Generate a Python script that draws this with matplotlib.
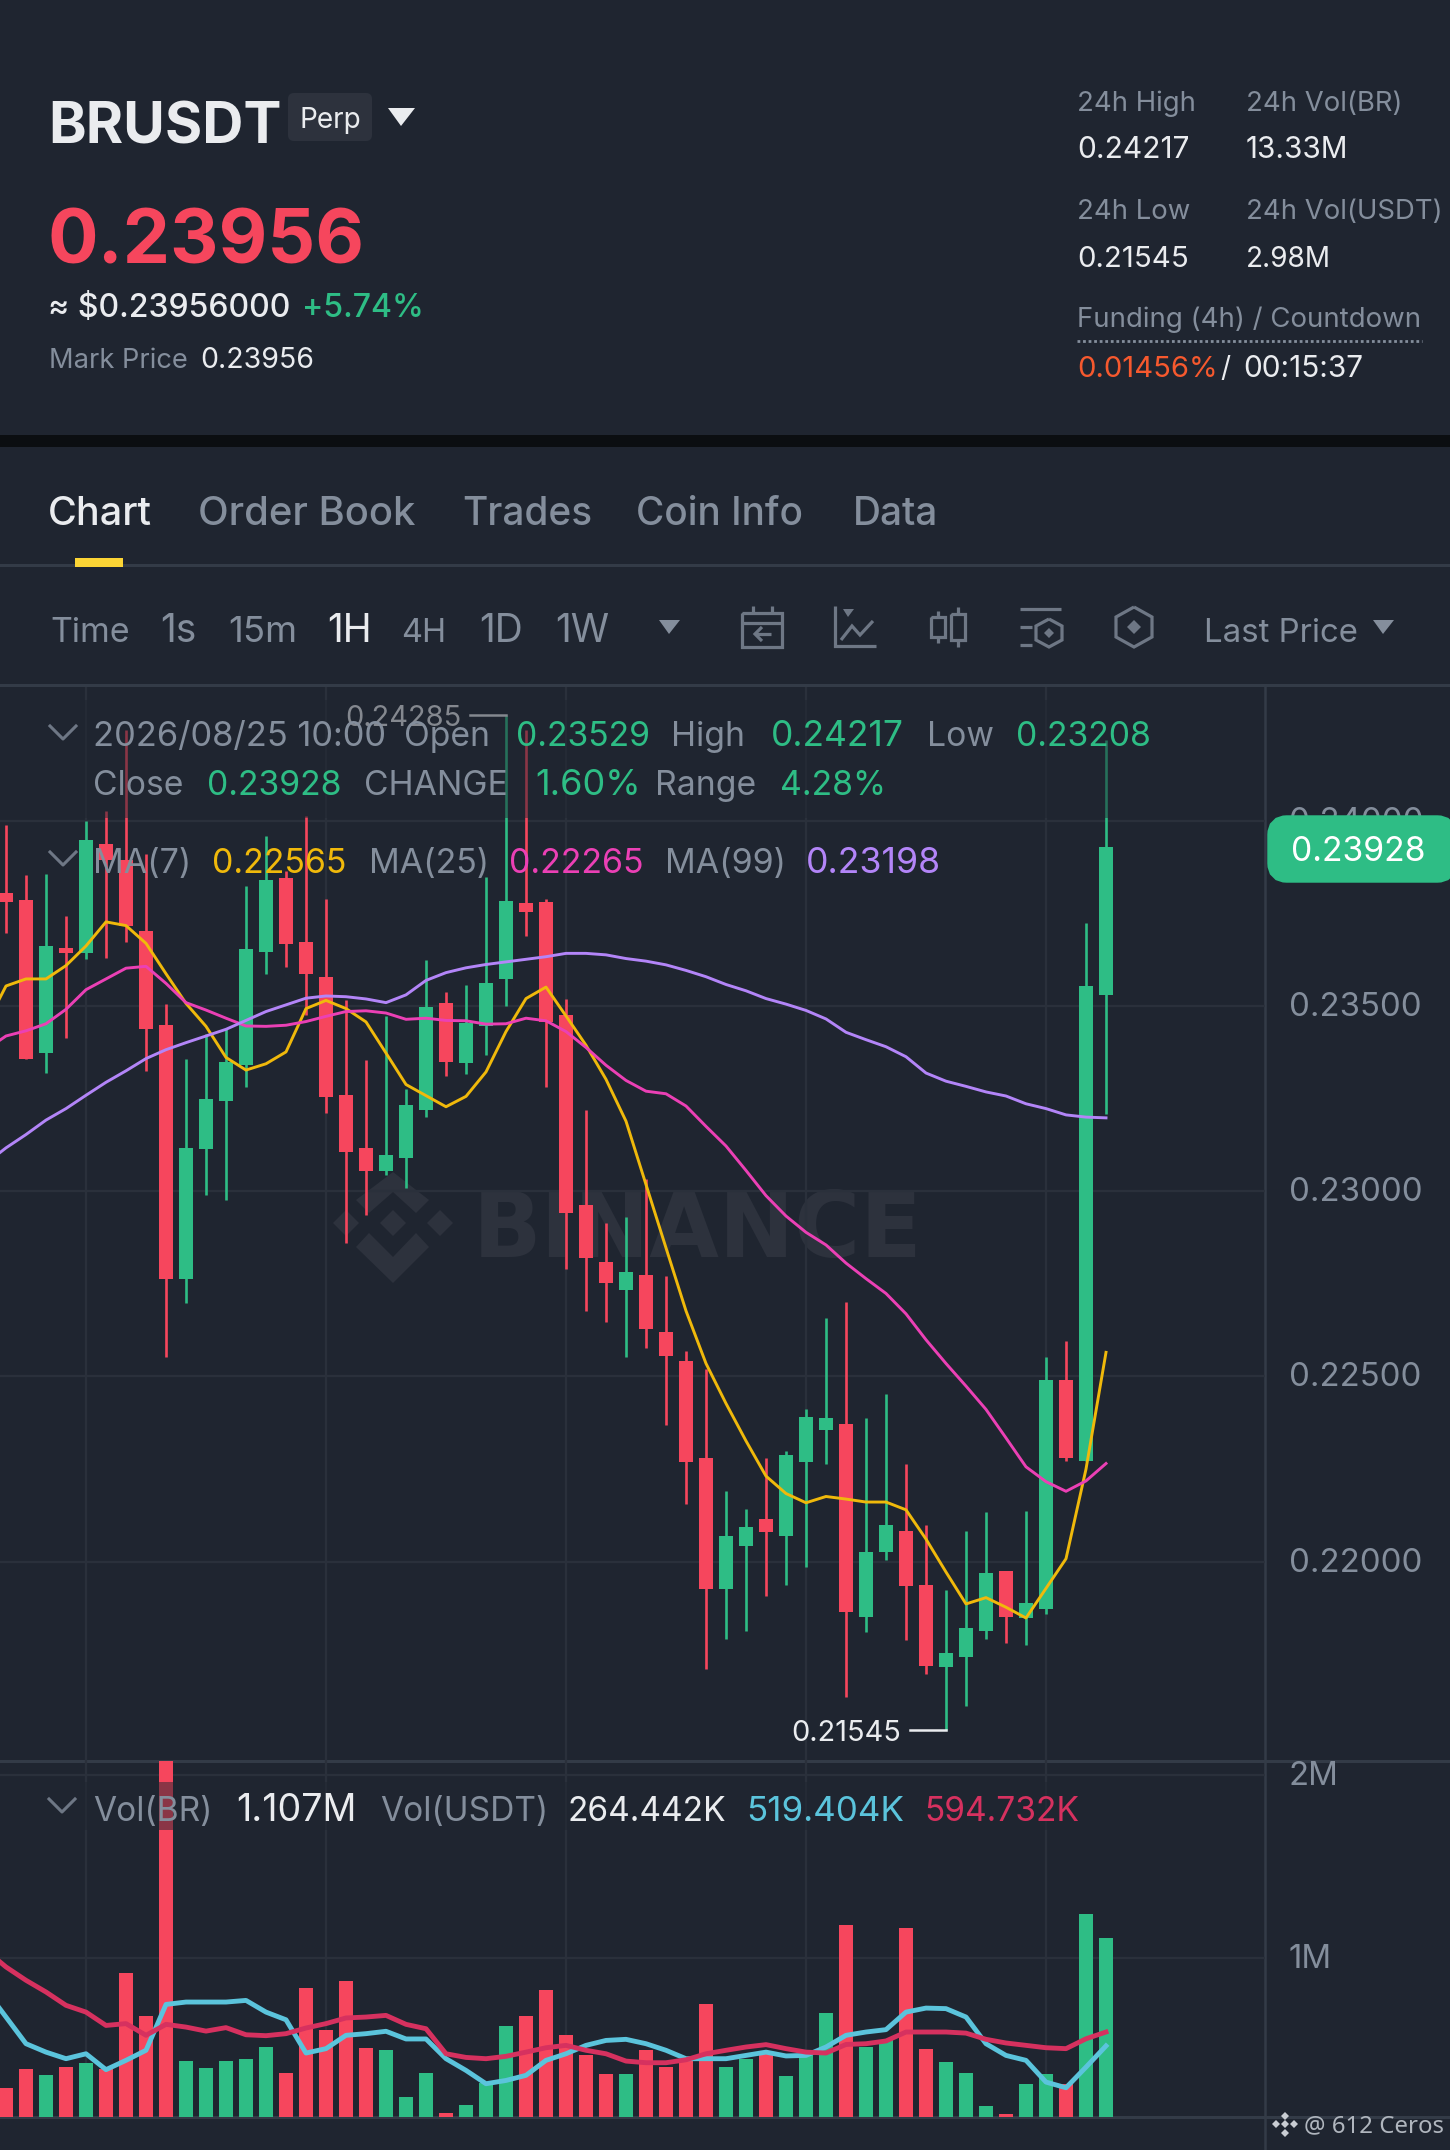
import numpy as np
import matplotlib
matplotlib.use('Agg')
import matplotlib.pyplot as plt
from matplotlib.patches import FancyBboxPatch, Polygon, Rectangle
from matplotlib.transforms import ScaledTranslation

plt.rcParams['font.family'] = ['Inter', 'Noto Sans', 'DejaVu Sans']

# candles, oldest first
opens = [0.23805, 0.23786, 0.23373, 0.23657, 0.23642, 0.23936, 0.23895, 0.23702, 0.23448, 0.22764,
         0.23115, 0.23244, 0.23340, 0.23645, 0.23846, 0.23672, 0.23578, 0.23261, 0.23117, 0.23054,
         0.23089, 0.23220, 0.23508, 0.23346, 0.23445, 0.23572, 0.23779, 0.23780, 0.23476, 0.22963,
         0.22810, 0.22734, 0.22773, 0.22620, 0.22542, 0.22279, 0.21926, 0.22042, 0.22114, 0.22068,
         0.22269, 0.22356, 0.22372, 0.21852, 0.22027, 0.22083, 0.21937, 0.21716, 0.21744, 0.21814,
         0.21975, 0.21848, 0.21871, 0.22491, 0.22273, 0.23529]
closes = [0.23780, 0.23358, 0.23663, 0.23643, 0.23949, 0.23895, 0.23717, 0.23439, 0.22764, 0.23117,
          0.23248, 0.23349, 0.23654, 0.23841, 0.23668, 0.23585, 0.23255, 0.23105, 0.23054, 0.23097,
          0.23234, 0.23496, 0.23349, 0.23455, 0.23563, 0.23783, 0.23755, 0.23457, 0.22942, 0.22819,
          0.22753, 0.22781, 0.22628, 0.22554, 0.22269, 0.21926, 0.22070, 0.22093, 0.22080, 0.22288,
          0.22391, 0.22387, 0.21865, 0.22025, 0.22099, 0.21934, 0.21719, 0.21754, 0.21822, 0.21970,
          0.21850, 0.21888, 0.22491, 0.22281, 0.23553, 0.23928]
highs = [0.23988, 0.23853, 0.23855, 0.23744, 0.24000, 0.24027, 0.24245, 0.23910, 0.23505, 0.23358,
         0.23425, 0.23437, 0.23823, 0.23959, 0.23865, 0.24012, 0.23789, 0.23515, 0.23355, 0.23473,
         0.23276, 0.23624, 0.23537, 0.23556, 0.23847, 0.24285, 0.24245, 0.23790, 0.23519, 0.23218,
         0.22914, 0.22931, 0.23033, 0.22770, 0.22569, 0.22521, 0.22190, 0.22142, 0.22279, 0.22298,
         0.22411, 0.22658, 0.22700, 0.22389, 0.22453, 0.22264, 0.22099, 0.21924, 0.22083, 0.22133,
         0.21975, 0.22137, 0.22552, 0.22597, 0.23723, 0.24217]
lows = [0.23696, 0.23358, 0.23320, 0.23413, 0.23627, 0.23630, 0.23672, 0.23325, 0.22552, 0.22697,
        0.22989, 0.22976, 0.23280, 0.23585, 0.23604, 0.23476, 0.23211, 0.22861, 0.22936, 0.23045,
        0.23008, 0.23201, 0.23310, 0.23317, 0.23367, 0.23501, 0.23688, 0.23281, 0.22791, 0.22677,
        0.22646, 0.22552, 0.22578, 0.22370, 0.22156, 0.21710, 0.21790, 0.21814, 0.21907, 0.21937,
        0.21985, 0.22264, 0.21634, 0.21810, 0.22004, 0.21788, 0.21697, 0.21545, 0.21610, 0.21790,
        0.21780, 0.21776, 0.21858, 0.22273, 0.22273, 0.23208]

# moving averages start one candle before the first visible one
ma7 = [0.23449, 0.23554, 0.23573, 0.23573, 0.23609, 0.23662, 0.23727, 0.23717, 0.23669, 0.23587,
       0.23507, 0.23445, 0.23361, 0.23327, 0.23344, 0.23376, 0.23493, 0.23515, 0.23493, 0.23457,
       0.23373, 0.23288, 0.23258, 0.23228, 0.23256, 0.23322, 0.23431, 0.23520, 0.23551, 0.23473,
       0.23394, 0.23302, 0.23189, 0.23018, 0.22847, 0.22677, 0.22535, 0.22427, 0.22326, 0.22231,
       0.22184, 0.22159, 0.22176, 0.22169, 0.22161, 0.22161, 0.22140, 0.22061, 0.21972, 0.21886,
       0.21903, 0.21877, 0.21848, 0.21928, 0.22008, 0.22250, 0.22565]
ma25 = [0.23382, 0.23419, 0.23433, 0.23452, 0.23491, 0.23544, 0.23573, 0.23602, 0.23607, 0.23561,
        0.23509, 0.23489, 0.23467, 0.23446, 0.23445, 0.23448, 0.23458, 0.23472, 0.23485, 0.23487,
        0.23481, 0.23464, 0.23467, 0.23461, 0.23460, 0.23451, 0.23452, 0.23467, 0.23460, 0.23431,
        0.23388, 0.23340, 0.23299, 0.23270, 0.23263, 0.23230, 0.23175, 0.23122, 0.23056, 0.22988,
        0.22933, 0.22889, 0.22855, 0.22806, 0.22764, 0.22724, 0.22669, 0.22599, 0.22535, 0.22474,
        0.22411, 0.22334, 0.22256, 0.22216, 0.22190, 0.22218, 0.22265]
ma99 = [0.23075, 0.23117, 0.23153, 0.23192, 0.23223, 0.23259, 0.23294, 0.23325, 0.23358, 0.23382,
        0.23401, 0.23419, 0.23437, 0.23461, 0.23485, 0.23503, 0.23521, 0.23527, 0.23525, 0.23519,
        0.23509, 0.23530, 0.23569, 0.23590, 0.23603, 0.23612, 0.23619, 0.23626, 0.23633, 0.23642,
        0.23642, 0.23638, 0.23628, 0.23621, 0.23611, 0.23596, 0.23579, 0.23558, 0.23541, 0.23520,
        0.23505, 0.23488, 0.23465, 0.23429, 0.23409, 0.23390, 0.23363, 0.23319, 0.23297, 0.23283,
        0.23268, 0.23257, 0.23236, 0.23223, 0.23206, 0.23200, 0.23198]

# volume in millions
volumes = [0.286, 0.392, 0.358, 0.401, 0.423, 0.390, 0.920, 0.684, 2.090, 0.436,
           0.396, 0.436, 0.449, 0.515, 0.369, 0.834, 0.606, 0.872, 0.509, 0.495,
           0.241, 0.369, 0.153, 0.193, 0.314, 0.630, 0.684, 0.823, 0.578, 0.467,
           0.367, 0.367, 0.495, 0.403, 0.440, 0.750, 0.403, 0.449, 0.473, 0.352,
           0.467, 0.700, 1.179, 0.513, 0.549, 1.162, 0.504, 0.432, 0.372, 0.192,
           0.148, 0.308, 0.363, 0.312, 1.243, 1.107]
vol_ma_short = [0.823, 0.677, 0.531, 0.485, 0.449, 0.476, 0.389, 0.440, 0.495, 0.746, 0.759,
                0.759, 0.759, 0.768, 0.704, 0.662, 0.480, 0.504, 0.577, 0.586, 0.599,
                0.557, 0.557, 0.449, 0.385, 0.312, 0.330, 0.358, 0.440, 0.476, 0.522,
                0.549, 0.555, 0.531, 0.495, 0.449, 0.449, 0.449, 0.467, 0.485, 0.464,
                0.467, 0.513, 0.577, 0.595, 0.608, 0.704, 0.726, 0.723, 0.677, 0.531,
                0.467, 0.440, 0.321, 0.290, 0.403, 0.519]
vol_ma_long = [1.042, 0.951, 0.878, 0.814, 0.741, 0.704, 0.631, 0.641, 0.577, 0.637, 0.622,
               0.600, 0.619, 0.580, 0.575, 0.586, 0.617, 0.641, 0.672, 0.677, 0.686,
               0.637, 0.613, 0.476, 0.456, 0.449, 0.462, 0.485, 0.509, 0.522, 0.495,
               0.476, 0.436, 0.427, 0.427, 0.443, 0.476, 0.495, 0.513, 0.526, 0.504,
               0.485, 0.480, 0.527, 0.531, 0.546, 0.595, 0.595, 0.595, 0.589, 0.555,
               0.535, 0.522, 0.509, 0.504, 0.558, 0.595]

price_ticks = [0.22, 0.225, 0.23, 0.235, 0.24]
vol_ticks = [1, 2]
grid_candles = [4, 16, 28, 40, 52]

BG = '#1F2530'
GREEN = '#2EBD85'
RED = '#F6465D'
GRAY = '#848E9C'
WHITE = '#EAECEF'
GRID = '#2A303B'
LINE = '#333B47'
ICON = '#6E7785'
MARK = '#2D323D'

H = 2150
W = 1450


def px_axes(bottom_px, top_px, right_px=W):
    return [0, 1 - bottom_px / H, right_px / W, (bottom_px - top_px) / H]


fig = plt.figure(figsize=(14.5, 21.5), dpi=100, facecolor=BG)

# page layer, everything here is in picture pixels
page = fig.add_axes([0, 0, 1, 1], zorder=0)
page.set_xlim(0, W)
page.set_ylim(H, 0)
page.axis('off')

# legend layer above the chart
over = fig.add_axes([0, 0, 1, 1], zorder=5)
over.set_xlim(0, W)
over.set_ylim(H, 0)
over.axis('off')
over.patch.set_alpha(0)


def txt(x, y, s, size, color=WHITE, weight='normal', ax=over, **kw):
    # the 1 in Inter is narrow, the original digits are all one width
    n = s.count('1')
    size = size * len(s) / (len(s) - 0.33 * n)
    ax.text(x, y, s, fontsize=size * 0.72, color=color, fontweight=weight, va='baseline', **kw)


# header
page.add_patch(Rectangle((0, 435), W, 12, color='#0B0E11', lw=0))
txt(48, 143, 'BRUSDT', 57, WHITE, 'bold')
page.add_patch(FancyBboxPatch((292, 97), 76, 40, boxstyle='round,pad=4,rounding_size=6', fc=MARK, ec='none'))
txt(300, 128, 'Perp', 28)
page.add_patch(Polygon([(388, 108), (415, 108), (401, 126)], fc=WHITE, ec='none'))
txt(48, 264, '0.23956', 75, RED, 'bold')
txt(48, 317, '≈ $0.23956000', 32, WHITE, 'medium')
txt(302, 317, '+5.74%', 32, GREEN, 'medium')
txt(49, 368, 'Mark Price', 27.3, GRAY)
txt(200, 368, '0.23956', 28.5)

txt(1077, 111, '24h High', 27.5, GRAY)
txt(1246, 111, '24h Vol(BR)', 27.5, GRAY)
txt(1077, 158, '0.24217', 28.5)
txt(1246, 158, '13.33M', 28)
txt(1077, 219, '24h Low', 27.5, GRAY)
txt(1246, 219, '24h Vol(USDT)', 27.5, GRAY)
txt(1077, 267, '0.21545', 28)
txt(1246, 267, '2.98M', 28)
txt(1077, 327, 'Funding (4h) / Countdown', 27.6, GRAY)
page.plot([1077, 1422], [341, 341], color=GRAY, lw=2, ls=(0, (1, 1)))
txt(1077, 377, '0.01456%', 28, '#F6592E')
txt(1220, 377, '/', 28)
txt(1243, 377, '00:15:37', 28.5)

# tabs
txt(48, 525, 'Chart', 39.5, WHITE, 'medium')
txt(198, 525, 'Order Book', 40, GRAY, 'medium')
for x, s in [(462, 'Trades'), (636, 'Coin Info'), (853, 'Data')]:
    txt(x, 525, s, 38.7, GRAY, 'medium')
page.add_patch(Rectangle((75, 558), 48, 9, color='#FCD535', lw=0, zorder=3))
page.axhline(565, color=LINE, lw=2.2)
page.axhline(685, color=LINE, lw=2.2)

# toolbar
txt(50, 642, 'Time', 34, GRAY)
txt(1204, 642, 'Last Price', 33, GRAY)
for x, s in [(160, '1s'), (228, '15m'), (401, '4H'), (479, '1D'), (555, '1W')]:
    txt(x, 642, s, 32.5, GRAY)
txt(327, 642, '1H', 32.5, WHITE)
page.add_patch(Polygon([(659, 620), (680, 620), (669, 634)], fc=GRAY, ec='none'))
page.add_patch(Polygon([(1373, 620), (1394, 620), (1383, 634)], fc=GRAY, ec='none'))


def stroke(xs, ys, lw=3.2):
    page.plot(xs, ys, color=ICON, lw=lw * 0.72, solid_capstyle='butt', solid_joinstyle='miter')


# calendar
stroke([742, 782, 782, 742, 742], [613, 613, 647, 647, 613])
stroke([742, 782], [623, 623])
stroke([753, 753], [606, 613])
stroke([772, 772], [606, 613])
stroke([771, 755], [634, 634])
stroke([762, 755, 762], [627, 634, 641])
# line chart
stroke([835, 835, 876], [606, 646, 646])
page.add_patch(Polygon([(843, 609), (854, 609), (848, 617)], fc=ICON, ec='none'))
stroke([841, 852, 860, 873], [640, 626, 635, 621])
# candles
stroke([931, 945, 945, 931, 931], [617, 617, 637, 637, 617])
stroke([938, 938], [611, 617])
stroke([938, 938], [637, 643])
stroke([951, 965, 965, 951, 951], [614, 614, 640, 640, 614])
stroke([958, 958], [607, 614])
stroke([958, 958], [640, 647])
# depth and hex icons
stroke([1020, 1061], [609, 609])
stroke([1020, 1032], [627, 627])
stroke([1020, 1032], [645, 645])


def hexagon(cx, cy, w, h, d):
    stroke([cx, cx + w, cx + w, cx, cx - w, cx - w, cx], [cy - h, cy - h / 2, cy + h / 2, cy + h, cy + h / 2, cy - h / 2, cy - h])
    page.add_patch(Polygon([(cx, cy - d), (cx + d, cy), (cx, cy + d), (cx - d, cy)], fc=ICON, ec='none'))


hexagon(1049, 633, 13, 14, 5)
hexagon(1134, 627, 18, 20, 7)

# watermark behind the candles
for shape in [[(356, 1200), (393, 1172), (429, 1200), (416, 1213), (393, 1192), (369, 1213)],
              [(356, 1247), (369, 1233), (393, 1257), (416, 1233), (429, 1247), (393, 1283)],
              [(393, 1210), (406, 1223), (393, 1236), (380, 1223)],
              [(346, 1210), (359, 1223), (346, 1236), (333, 1223)],
              [(440, 1210), (453, 1223), (440, 1236), (427, 1223)]]:
    page.add_patch(Polygon(shape, fc=MARK, ec='none'))
page.text(473, 1257, 'BINANCE', fontsize=90 * 0.72, color=MARK, fontweight='bold', family='DejaVu Sans', va='baseline')

# panel separators
page.axhline(1761, color=LINE, lw=2.2)
page.axhline(2117, color=LINE, lw=2.2)
page.plot([1265, 1265], [686, H], color=LINE, lw=1.8)

x_full = np.arange(-1, 56)
x = np.arange(56)
op = np.array(opens)
cl = np.array(closes)
colors = [GREEN if c >= o else RED for o, c in zip(op, cl)]

# price panel
ax = fig.add_axes(px_axes(1761, 687, 1265), zorder=1)
ax.patch.set_alpha(0)
ax.set_xlim(-0.3, 62.95)
ax.set_ylim(0.21462, 0.24361)
ax.vlines(x, lows, highs, colors=colors, lw=1.9, zorder=3)
ax.bar(x, np.abs(cl - op), bottom=np.minimum(op, cl), width=0.7, color=colors, zorder=3)
ax.plot(x_full, ma7, color='#F0B90B', lw=2.1, zorder=4)
ax.plot(x_full, ma25, color='#EB40B5', lw=2.1, zorder=4)
ax.plot(x_full, ma99, color='#B385F8', lw=2.1, zorder=4)
ax.set_xticks(grid_candles)
ax.set_yticks(price_ticks)
ax.set_yticklabels(['%.5f' % t for t in price_ticks])
ax.yaxis.tick_right()
ax.tick_params(axis='both', length=0, labelbottom=False, labelsize=33 * 0.72, labelcolor=GRAY, pad=17)
ax.grid(True, color=GRID, lw=1.6, zorder=1)
for s in ax.spines.values():
    s.set_visible(False)
for lab in ax.get_yticklabels():
    lab.set_transform(lab.get_transform() + ScaledTranslation(0, 2 / 100, fig.dpi_scale_trans))

# high and low markers
ax.plot([25 - 1.8, 25], [highs[25], highs[25]], color=WHITE, lw=1.8, zorder=5)
ax.text(25 - 2.25, highs[25], '0.24285', color=WHITE, fontsize=29 * 0.72, ha='right', va='center_baseline', zorder=5)
ax.plot([47 - 1.8, 47], [lows[47], lows[47]], color=WHITE, lw=1.8, zorder=5)
ax.text(47 - 2.25, lows[47], '0.21545', color=WHITE, fontsize=29 * 0.72, ha='right', va='center_baseline', zorder=5)

# volume panel
av = fig.add_axes(px_axes(2117, 1761, 1265), zorder=1)
av.patch.set_alpha(0)
av.set_xlim(-0.3, 62.95)
av.set_ylim(0.130, 2.078)
av.bar(x, volumes, width=0.7, color=colors, zorder=3)
av.plot(x_full, vol_ma_short, color='#5BC4DC', lw=3.5, zorder=4)
av.plot(x_full, vol_ma_long, color='#D6315F', lw=3.5, zorder=5)
av.set_xticks(grid_candles)
av.set_yticks(vol_ticks)
av.set_yticklabels(['%dM' % t for t in vol_ticks])
av.yaxis.tick_right()
av.tick_params(axis='both', length=0, labelbottom=False, labelsize=33 * 0.72, labelcolor=GRAY, pad=17)
av.grid(True, color=GRID, lw=1.6, zorder=1)
for s in av.spines.values():
    s.set_visible(False)
for lab in av.get_yticklabels():
    lab.set_transform(lab.get_transform() + ScaledTranslation(0, 2 / 100, fig.dpi_scale_trans))

# translucent band behind the legends
over.add_patch(Rectangle((40, 700), 1120, 118, fc=BG, ec='none', alpha=0.5, zorder=1))
over.add_patch(Rectangle((40, 1782), 1050, 48, fc=BG, ec='none', alpha=0.5, zorder=1))


def chevron(x0, y0):
    over.plot([x0, x0 + 13, x0 + 26], [y0, y0 + 13, y0], color=ICON, lw=2.2, zorder=3)


chevron(50, 726)
for xp, s, c in [(93, '2026/08/25 10:00', GRAY), (404, 'Open', GRAY), (516, '0.23529', GREEN),
                 (671, 'High', GRAY), (771, '0.24217', GREEN), (927, 'Low', GRAY), (1016, '0.23208', GREEN)]:
    txt(xp, 746, s, 33.7, c, zorder=4)
for xp, s, c in [(93, 'Close', GRAY), (207, '0.23928', GREEN), (364, 'CHANGE', GRAY), (535, '1.60%', GREEN),
                 (655, 'Range', GRAY), (780, '4.28%', GREEN)]:
    txt(xp, 795, s, 33.7, c, zorder=4)
chevron(50, 852)
for xp, s, c in [(93, 'MA(7)', GRAY), (212, '0.22565', '#F0B90B'), (369, 'MA(25)', GRAY), (509, '0.22265', '#EB40B5'),
                 (665, 'MA(99)', GRAY), (806, '0.23198', '#B385F8')]:
    txt(xp, 873, s, 34, c, zorder=4)
chevron(49, 1799)
for xp, s, c in [(93, 'Vol(BR)', GRAY), (236, '1.107M', WHITE), (380, 'Vol(USDT)', GRAY), (568, '264.442K', WHITE),
                 (746, '519.404K', '#5BC4DC'), (924, '594.732K', '#D6315F')]:
    txt(xp, 1821, s, 33.5, c, zorder=4)

# last price tag
over.add_patch(FancyBboxPatch((1277, 825), 170, 48, boxstyle='round,pad=0,rounding_size=10', fc=GREEN, ec=GREEN, lw=14, zorder=3))
txt(1291, 861, '0.23928', 33.7, '#FFFFFF', 'normal', zorder=4)

# credit in the corner
for cx, cy in [(1285, 2116), (1285, 2133), (1276, 2124), (1294, 2124), (1285, 2124)]:
    over.add_patch(Polygon([(cx, cy - 4), (cx + 4, cy), (cx, cy + 4), (cx - 4, cy)], fc='#C9CDD3', ec='none'))
over.text(1304, 2132, '@ 612 Ceros', fontsize=24 * 0.72, color='#B0B6BE', family=['Noto Sans', 'DejaVu Sans'], va='baseline')

fig.savefig('out.png', dpi=100, facecolor=BG)
